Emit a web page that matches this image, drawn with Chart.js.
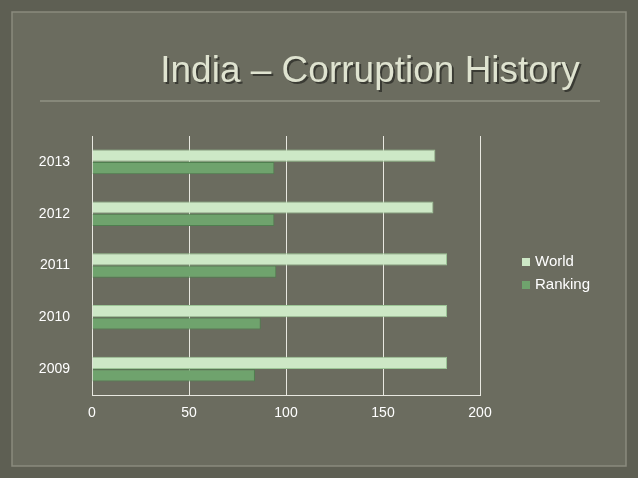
<!DOCTYPE html>
<html>
<head>
<meta charset="utf-8">
<script src="https://cdn.jsdelivr.net/npm/chart.js@4"></script>
<style>
  html, body { margin: 0; padding: 0; background: #5e5f53; }
  #wrap { width: 638px; height: 478px; position: relative; }
</style>
</head>
<body>
<div id="wrap"><canvas id="chart" width="638" height="478"></canvas></div>
<script>
const TITLE = 'India – Corruption History';
const years = ['2013', '2012', '2011', '2010', '2009'];
const worldValues = [177, 176, 183, 183, 183];
const rankingValues = [94, 94, 95, 87, 84];
const xTicks = [0, 50, 100, 150, 200];

const slidePlugin = {
    id: 'slide',
    beforeDraw(chart) {
        const ctx = chart.ctx;
        ctx.save();
        ctx.fillStyle = '#5e5f53';
        ctx.fillRect(0, 0, 638, 478);
        ctx.fillStyle = '#6b6c5f';
        ctx.fillRect(12, 12, 614, 454);
        ctx.strokeStyle = '#8a8b7e';
        ctx.lineWidth = 1.5;
        ctx.strokeRect(12, 12, 614, 454);
        // title
        ctx.font = '37px "Liberation Sans", Arial, sans-serif';
        ctx.textAlign = 'center';
        ctx.textBaseline = 'middle';
        ctx.fillStyle = 'rgba(0,0,0,0.45)';
        ctx.fillText(TITLE, 372, 74);
        ctx.fillStyle = '#dfe3d0';
        ctx.fillText(TITLE, 370, 72);
        ctx.strokeStyle = '#a3a496';
        ctx.lineWidth = 1;
        ctx.beginPath();
        ctx.moveTo(40, 101);
        ctx.lineTo(600, 101);
        ctx.stroke();
        ctx.restore();
    },
    afterDraw(chart) {
        const ctx = chart.ctx;
        const items = [['World', '#cde8c6'], ['Ranking', '#6fa36d']];
        ctx.save();
        ctx.font = '15px "Liberation Sans", Arial, sans-serif';
        ctx.textBaseline = 'middle';
        items.forEach(([label, color], i) => {
            const y = 262 + i * 23;
            ctx.fillStyle = color;
            ctx.fillRect(522, y - 4, 8, 8);
            ctx.fillStyle = '#ffffff';
            ctx.fillText(label, 535, y);
        });
        ctx.restore();
    }
};

new Chart(document.getElementById('chart'), {
    type: 'bar',
    data: {
        labels: years,
        datasets: [
            { label: 'World', data: worldValues, backgroundColor: '#cde8c6', borderColor: '#9cc596', borderWidth: 1 },
            { label: 'Ranking', data: rankingValues, backgroundColor: '#6fa36d', borderColor: '#4f7f4f', borderWidth: 1 }
        ]
    },
    plugins: [slidePlugin],
    options: {
        indexAxis: 'y',
        responsive: false,
        animation: false,
        layout: { padding: { left: 30, right: 158, top: 136, bottom: 53 } },
        datasets: { bar: { categoryPercentage: 0.48, barPercentage: 0.98 } },
        plugins: { legend: { display: false }, tooltip: { enabled: false } },
        scales: {
            x: {
                min: 0, max: 200,
                afterBuildTicks(scale) { scale.ticks = xTicks.map(v => ({ value: v })); },
                afterFit(scale) { scale.height = 30; },
                grid: { color: '#e8e8e0', lineWidth: 1, drawTicks: false },
                border: { color: '#e8e8e0' },
                ticks: { color: '#ffffff', padding: 10, font: { size: 14, family: '"Liberation Sans", Arial, sans-serif' } }
            },
            y: {
                afterFit(scale) { scale.width = 62; },
                grid: { display: false },
                border: { color: '#e8e8e0' },
                ticks: { color: '#ffffff', padding: 14, font: { size: 14, family: '"Liberation Sans", Arial, sans-serif' } }
            }
        }
    }
});
</script>
</body>
</html>
